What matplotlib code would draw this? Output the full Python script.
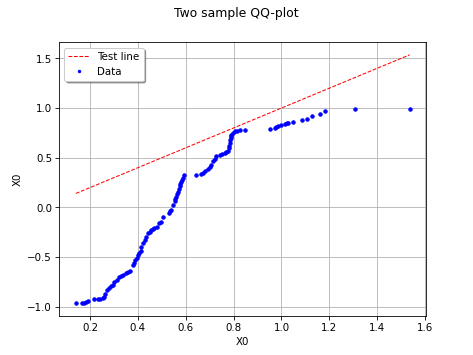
import matplotlib
matplotlib.use("Agg")
import matplotlib.pyplot as plt

x_data = [0.141, 0.165, 0.176, 0.183, 0.190, 0.215, 0.232, 0.243, 0.253, 0.257,
          0.263, 0.271, 0.281, 0.288, 0.295, 0.302, 0.311, 0.323, 0.330, 0.337,
          0.351, 0.358, 0.365, 0.379, 0.385, 0.389, 0.395, 0.400, 0.405, 0.411,
          0.415, 0.420, 0.428, 0.435, 0.441, 0.449, 0.456, 0.462, 0.469, 0.479,
          0.490, 0.498, 0.504, 0.532, 0.536, 0.539, 0.546, 0.553, 0.557, 0.560,
          0.564, 0.567, 0.571, 0.574, 0.578, 0.581, 0.585, 0.588, 0.592,
          0.641, 0.665, 0.672, 0.679, 0.693, 0.700, 0.707, 0.714, 0.721, 0.728,
          0.742, 0.752, 0.763, 0.770, 0.777, 0.780, 0.782, 0.784, 0.786, 0.787,
          0.789, 0.791, 0.798, 0.805, 0.815, 0.826, 0.847,
          0.951, 0.972, 0.979, 0.986, 1.000, 1.014, 1.021, 1.028, 1.049, 1.084,
          1.105, 1.126, 1.161, 1.182, 1.308, 1.535]
y_data = [-0.966, -0.966, -0.956, -0.950, -0.942, -0.922, -0.919, -0.919, -0.915, -0.899,
          -0.869, -0.831, -0.808, -0.795, -0.781, -0.754, -0.731, -0.703, -0.690, -0.680,
          -0.663, -0.650, -0.637, -0.579, -0.555, -0.529, -0.505, -0.478, -0.458, -0.438,
          -0.400, -0.360, -0.327, -0.294, -0.259, -0.243, -0.226, -0.218, -0.209, -0.193,
          -0.158, -0.142, -0.098, -0.058, -0.040, -0.024, 0.026, 0.060, 0.085, 0.110,
          0.135, 0.160, 0.185, 0.211, 0.236, 0.261, 0.280, 0.296, 0.322,
          0.329, 0.339, 0.350, 0.362, 0.390, 0.405, 0.423, 0.463, 0.490, 0.514,
          0.531, 0.540, 0.548, 0.556, 0.564, 0.598, 0.620, 0.649, 0.675, 0.699,
          0.716, 0.733, 0.750, 0.766, 0.772, 0.776, 0.783,
          0.790, 0.800, 0.808, 0.816, 0.828, 0.841, 0.846, 0.851, 0.857, 0.877,
          0.894, 0.917, 0.944, 0.968, 0.995, 0.995]

line_x = [min(x_data), max(x_data)]
line_y = [min(x_data), max(x_data)]

fig = plt.figure(figsize=(6.4, 4.8), dpi=74)
ax = fig.add_subplot(111)
ax.plot(line_x, line_y, color="red", linestyle="--", linewidth=1.0, label="Test line")
ax.plot(x_data, y_data, linestyle="none", marker="o", markersize=3.3,
        color="blue", label="Data")
ax.grid(True)
ax.set_xlabel("X0")
ax.set_ylabel("X0")
ax.legend(loc="upper left", shadow=True, markerscale=0.7)
fig.suptitle("Two sample QQ-plot")
fig.savefig("out.png", dpi=74)
